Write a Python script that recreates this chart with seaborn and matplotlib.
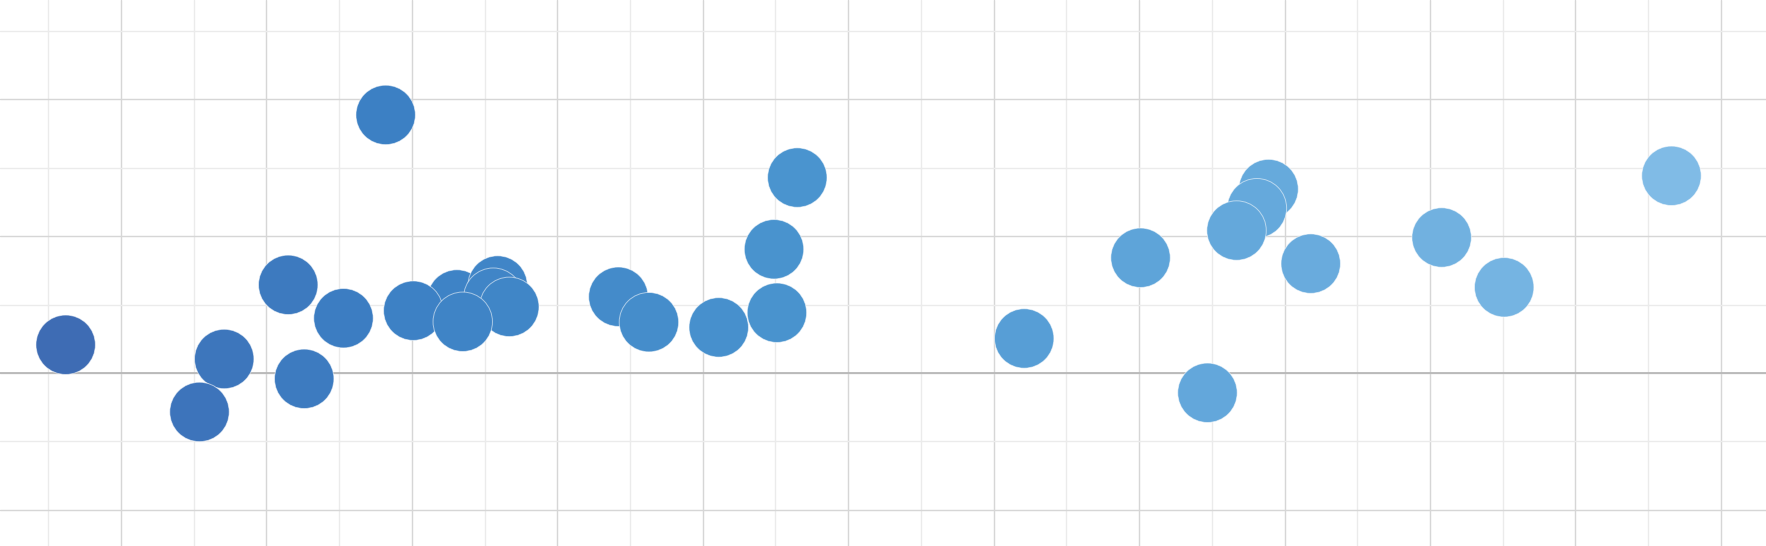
import numpy as np
import pandas as pd
import matplotlib
matplotlib.use("Agg")
import matplotlib.pyplot as plt
from matplotlib.colors import LinearSegmentedColormap, Normalize
from matplotlib.ticker import MultipleLocator
import seaborn as sns

# ---- data (drawing order matters for overlaps) ----
x_values = [6.2, 17.1, 15.4, 21.5, 22.6, 25.3, 28.2,
            33.1, 35.9, 35.6, 36.7, 30.1, 33.5,
            44.2, 46.3, 51.1, 55.1, 54.9, 56.5,
            72.1, 80.1, 84.7, 88.9, 88.1, 86.7, 91.8,
            100.8, 105.1, 116.6]
y_values = [2.06, 1.02, -2.85, 6.44, -0.43, 4.00, 18.86,
            5.37, 6.39, 5.50, 4.83, 4.55, 3.74,
            5.57, 3.71, 3.33, 4.40, 9.04, 14.28,
            2.52, 8.42, -1.45, 13.44, 12.04, 10.41, 7.99,
            9.90, 6.26, 14.41]

df = pd.DataFrame({"x": x_values, "y": y_values})

sns.set_theme(style="white")

cmap = LinearSegmentedColormap.from_list(
    "blue_ramp",
    [(0.0, "#3e6cb4"), (0.2, "#3c80c4"), (0.455, "#4a94cf"),
     (0.67, "#5ea4d9"), (1.0, "#80bbe6")])

fig = plt.figure(figsize=(17.66, 5.46), dpi=100)
ax = fig.add_axes([0, 0, 1, 1])

sns.scatterplot(data=df, x="x", y="y", hue="x", palette=cmap,
                hue_norm=Normalize(6.2, 116.6), s=1830,
                edgecolor=(1, 1, 1, 0.55), linewidth=0.7,
                legend=False, ax=ax, zorder=3)

ax.set_xlim(1.685, 123.1)
ax.set_ylim(-12.65, 27.26)

ax.xaxis.set_major_locator(MultipleLocator(10))
ax.xaxis.set_minor_locator(MultipleLocator(5))
ax.yaxis.set_major_locator(MultipleLocator(10))
ax.yaxis.set_minor_locator(MultipleLocator(5))

ax.grid(which="minor", color="#ebebeb", linewidth=1.0, zorder=0)
ax.grid(which="major", color="#d6d6d6", linewidth=1.0, zorder=1)
ax.axhline(0, color="#b8b8b8", linewidth=1.3, zorder=2)

ax.set_xlabel("")
ax.set_ylabel("")
ax.tick_params(which="both", length=0, labelbottom=False, labelleft=False)
for s in ax.spines.values():
    s.set_visible(False)

fig.savefig("out.png", dpi=100)
